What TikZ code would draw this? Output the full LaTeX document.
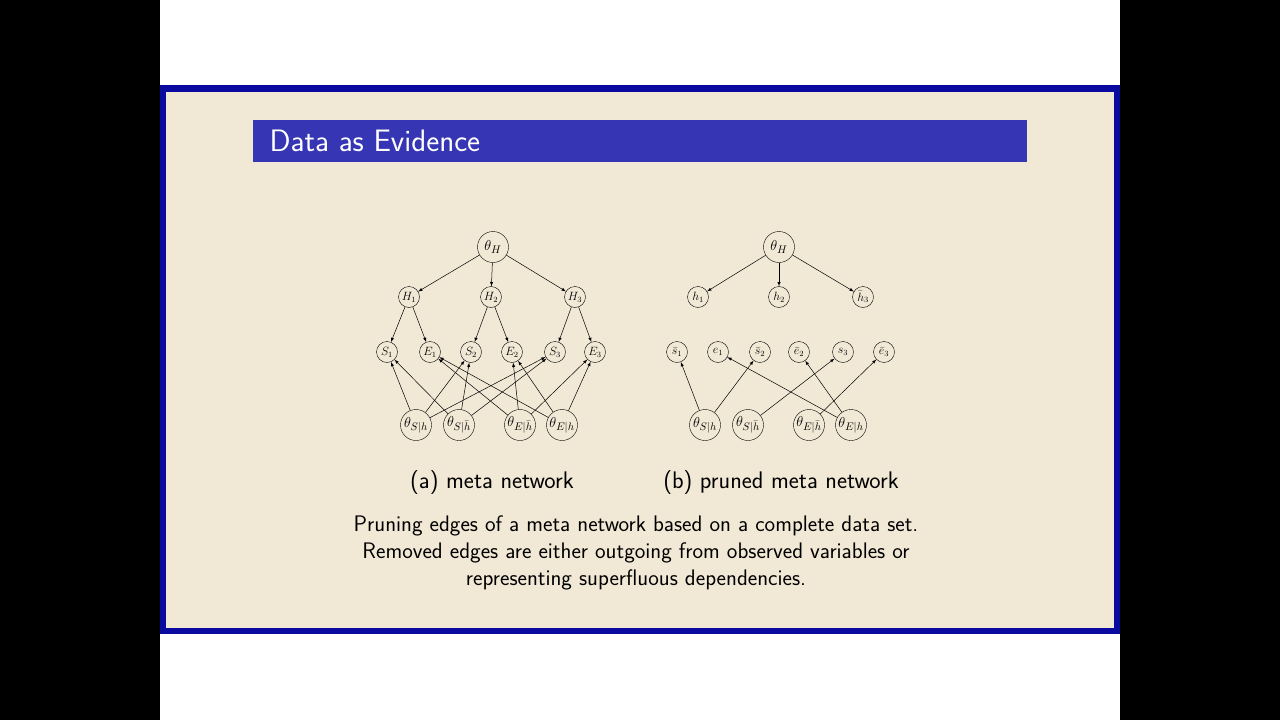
\documentclass[tikz,border=0pt]{standalone}
\usepackage{amsmath}
\begin{document}
\begin{tikzpicture}[x=1pt,y=-1pt,
  nd/.style={circle,draw,inner sep=0pt,minimum size=21pt,font=\fontsize{12}{12}\selectfont},
  bn/.style={circle,draw,inner sep=0pt,minimum size=31pt,font=\fontsize{15}{15}\selectfont},
  ar/.style={-latex,line width=0.5pt},
  captxt/.style={font=\sffamily\fontsize{24}{28}\selectfont}]
\fill[black] (0,0) rectangle (1280,720);
\fill[white] (160,0) rectangle (1120,720);
\fill[fill={rgb,255:red,10;green,10;blue,160}] (160,85) rectangle (1120,634);
\fill[fill={rgb,255:red,241;green,233;blue,214}] (166,92) rectangle (1114,628);
\fill[fill={rgb,255:red,54;green,54;blue,180}] (253,120) rectangle (1027,162);
\node[anchor=west,text=white,font=\sffamily\fontsize{31}{31}\selectfont] (title) at (266,141) {Data as Evidence};
% (a)
\node[bn] (aT) at (493,247) {$\theta_H$};
\node[nd] (aH1) at (409,297) {$H_1$};
\node[nd] (aH2) at (491,297) {$H_2$};
\node[nd] (aH3) at (575,297) {$H_3$};
\node[nd] (aS1) at (387,352) {$S_1$};
\node[nd] (aE1) at (430,352) {$E_1$};
\node[nd] (aS2) at (471,352) {$S_2$};
\node[nd] (aE2) at (512,352) {$E_2$};
\node[nd] (aS3) at (555,352) {$S_3$};
\node[nd] (aE3) at (595,352) {$E_3$};
\node[bn] (aA) at (416,425) {$\theta_{S|h}$};
\node[bn] (aB) at (459,425) {$\theta_{S|\bar h}$};
\node[bn] (aC) at (520,425) {$\theta_{E|\bar h}$};
\node[bn] (aD) at (562,425) {$\theta_{E|h}$};
\foreach \h in {aH1,aH2,aH3} \draw[ar] (aT) -- (\h);
\draw[ar] (aH1)--(aS1); \draw[ar] (aH1)--(aE1);
\draw[ar] (aH2)--(aS2); \draw[ar] (aH2)--(aE2);
\draw[ar] (aH3)--(aS3); \draw[ar] (aH3)--(aE3);
\foreach \s in {aS1,aS2,aS3} {\draw[ar] (aA)--(\s); \draw[ar] (aB)--(\s);}
\foreach \s in {aE1,aE2,aE3} {\draw[ar] (aC)--(\s); \draw[ar] (aD)--(\s);}
% (b)
\node[bn] (bT) at (779,247) {$\theta_H$};
\node[nd] (bH1) at (698,297) {$h_1$};
\node[nd] (bH2) at (779,297) {$h_2$};
\node[nd] (bH3) at (863,297) {$\bar h_3$};
\node[nd] (bS1) at (677,352) {$\bar s_1$};
\node[nd] (bE1) at (718,352) {$e_1$};
\node[nd] (bS2) at (760,352) {$\bar s_2$};
\node[nd] (bE2) at (799,352) {$\bar e_2$};
\node[nd] (bS3) at (843,352) {$s_3$};
\node[nd] (bE3) at (884,352) {$\bar e_3$};
\node[bn] (bA) at (705,425) {$\theta_{S|h}$};
\node[bn] (bB) at (748,425) {$\theta_{S|\bar h}$};
\node[bn] (bC) at (809,425) {$\theta_{E|\bar h}$};
\node[bn] (bD) at (851,425) {$\theta_{E|h}$};
\foreach \h in {bH1,bH2,bH3} \draw[ar] (bT) -- (\h);
\draw[ar] (bA)--(bS1); \draw[ar] (bA)--(bS2);
\draw[ar] (bB)--(bS3); \draw[ar] (bC)--(bE3);
\draw[ar] (bD)--(bE1); \draw[ar] (bD)--(bE2);
\node[captxt] (ca) at (492,483) {(a) meta network};
\node[captxt] (cb) at (781,483) {(b) pruned meta network};
\node[align=center,font=\sffamily\fontsize{22.5}{27}\selectfont] (body) at (636,553) {Pruning edges of a meta network based on a complete data set.\\Removed edges are either outgoing from observed variables or\\representing superfluous dependencies.};
\end{tikzpicture}
\end{document}
